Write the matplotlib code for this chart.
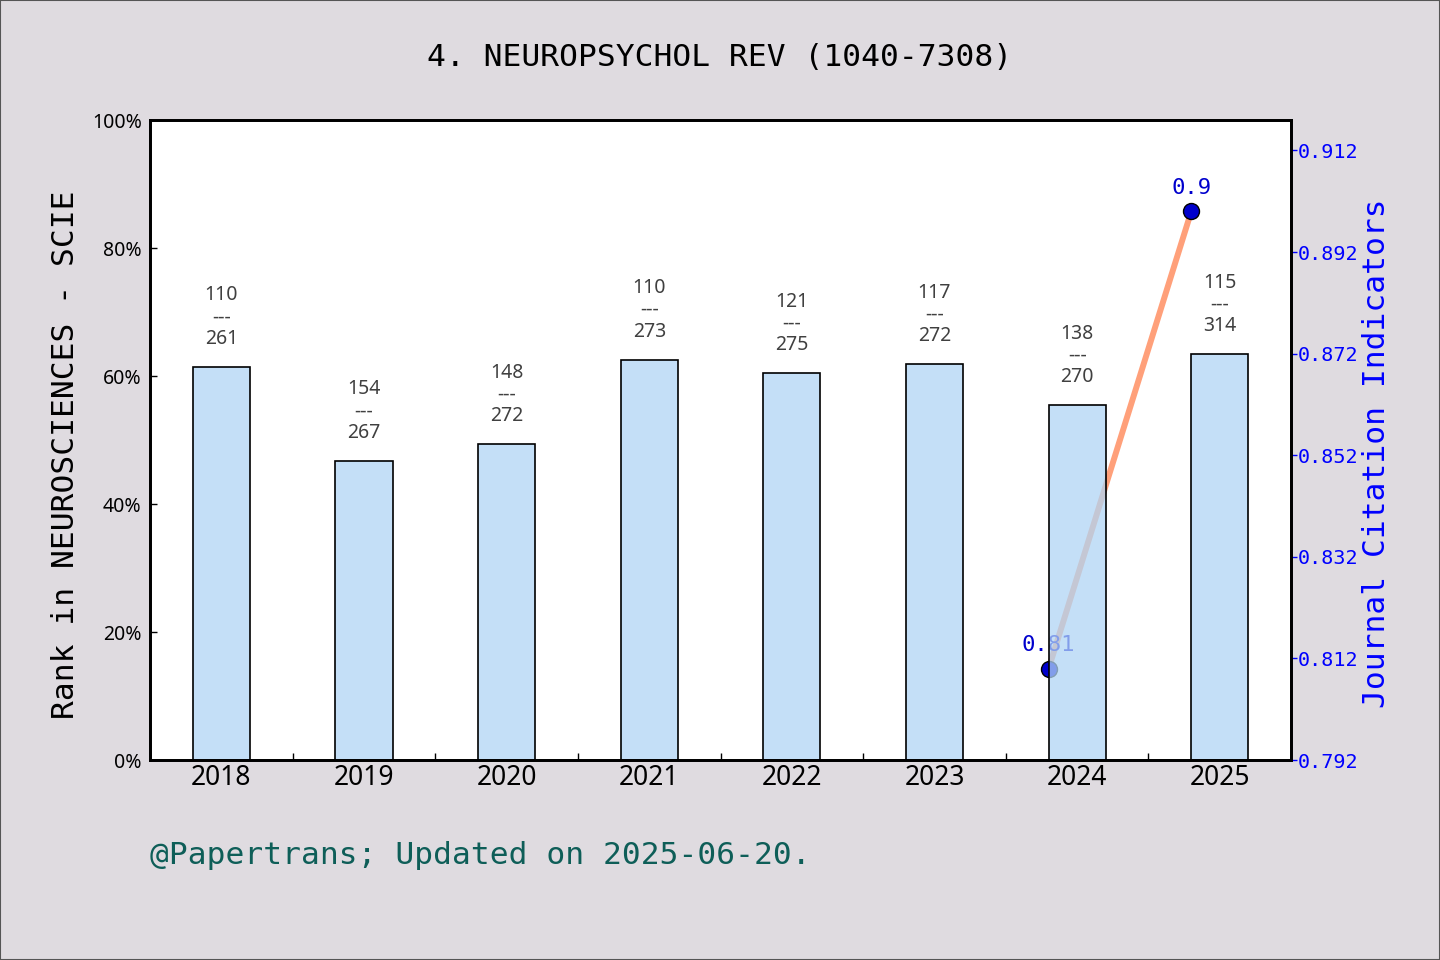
import numpy as np
import matplotlib.pyplot as plt
from matplotlib.patches import Rectangle
from matplotlib.ticker import FixedLocator, FuncFormatter

years = ['2018', '2019', '2020', '2021', '2022', '2023', '2024', '2025']
rank_pct = [61.4, 46.7, 49.3, 62.5, 60.4, 61.8, 55.4, 63.4]
ranks = [110, 154, 148, 110, 121, 117, 138, 115]
totals = [261, 267, 272, 273, 275, 272, 270, 314]
jci_years = ['2024', '2025']
jci_values = [0.81, 0.9]

bg = '#dfdbe0'
mono = 'DejaVu Sans Mono'
sans = 'Noto Sans'
bar_w = 0.4

fig = plt.figure(figsize=(14.4, 9.6), dpi=100, facecolor=bg)
ax = fig.add_axes([0.1042, 0.2083, 0.7924, 0.6667])
ax2 = ax.twinx()

# bars sit above the JCI line (semi transparent), like the reference
ax.set_zorder(2)
ax2.set_zorder(1)
ax.patch.set_visible(False)
ax2.patch.set_facecolor('white')
ax2.patch.set_visible(True)

x = np.arange(len(years))
ax.bar(x, rank_pct, width=bar_w, facecolor=(0.69, 0.835, 0.96, 0.74),
       edgecolor='black', linewidth=1.2)

for i, v in enumerate(rank_pct):
    ax.annotate(f'{ranks[i]}\n---\n{totals[i]}', (x[i], v), xytext=(0, 13),
                textcoords='offset points', ha='center', va='bottom',
                fontsize=14, color='#404040', family=sans, linespacing=1.12)

ax.set_xlim(-0.5, len(years) - 0.5)
ax.set_ylim(0, 100)
ax.set_xticks(x)
ax.set_xticklabels(years, fontsize=19, family=sans)
ax.xaxis.set_minor_locator(FixedLocator(x[:-1] + 0.5))
ax.tick_params(axis='x', which='major', length=0, pad=3)
ax.tick_params(axis='x', which='minor', direction='in', length=5, width=1)
ax.set_yticks(np.arange(0, 101, 20))
ax.yaxis.set_major_formatter(FuncFormatter(lambda v, p: f'{v:.0f}%'))
ax.tick_params(axis='y', direction='in', length=5, width=1, labelsize=14, pad=6)
for lab in ax.get_yticklabels():
    lab.set_family(sans)
ax.set_ylabel('Rank in NEUROSCIENCES - SCIE', fontsize=22.5, family=mono)
ax.yaxis.set_label_coords(-0.061, 0.477)

for sp in ax.spines.values():
    sp.set_linewidth(2)
for sp in ax2.spines.values():
    sp.set_linewidth(2)

# JCI points sit at the left edge of each year's bar
jx = np.array([years.index(y) for y in jci_years]) - bar_w / 2
lo = min(jci_values) - 0.018
hi = max(jci_values) + 0.018
ax2.plot(jx, jci_values, color='#ffa07a', linewidth=4.3, zorder=2)
ax2.plot(jx, jci_values, 'o', markersize=11.5, markerfacecolor='#0000cc',
         markeredgecolor='black', markeredgewidth=1, zorder=3)
for xi, v in zip(jx, jci_values):
    ax2.annotate(f'{v:g}', (xi, v), xytext=(0, 10), textcoords='offset points',
                 ha='center', va='bottom', fontsize=16, color='#0000cd', family=mono)
ax2.set_ylim(lo, hi)
ax2.set_yticks(np.arange(lo, hi, 0.02))
ax2.yaxis.set_major_formatter(FuncFormatter(lambda v, p: f'{v:.3f}'))
ax2.tick_params(axis='y', direction='out', length=4, width=1, colors='blue',
                labelsize=14.5, pad=1)
for lab in ax2.get_yticklabels():
    lab.set_family(mono)
ax2.set_ylabel('Journal Citation Indicators', fontsize=22.5, family=mono, color='blue')
ax2.yaxis.set_label_coords(1.062, 0.479)

fig.text(0.5, 0.94, '4. NEUROPSYCHOL REV (1040-7308)', ha='center', va='center',
         fontsize=22.5, family=mono, color='black')
fig.text(0.1042, 0.109, '@Papertrans; Updated on 2025-06-20.', ha='left', va='center',
         fontsize=22.5, family=mono, color='#0e5e58')

fig.patches.append(Rectangle((0, 0), 1, 1, transform=fig.transFigure, fill=False,
                             edgecolor='#555555', linewidth=1.5))

fig.savefig('out.png', dpi=100, facecolor=bg)
